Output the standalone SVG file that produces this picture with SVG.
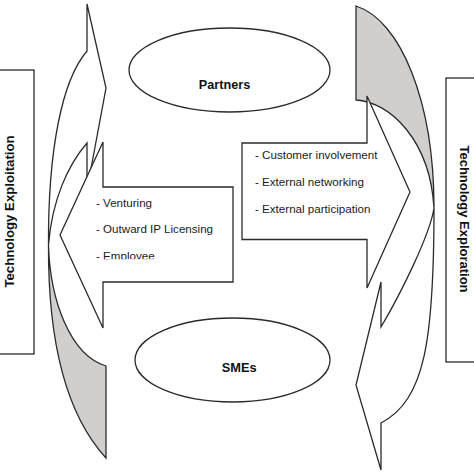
<svg xmlns="http://www.w3.org/2000/svg" width="474" height="474" viewBox="0 0 474 474">
<defs>
<style>
.ln{fill:#fff;stroke:#2b2b2b;stroke-width:1.3;stroke-linejoin:miter}
.sh{fill:#d0cfcd;stroke:#2b2b2b;stroke-width:1.3}
.lbl{font-family:"Liberation Sans",Arial,sans-serif;font-size:11.6px;fill:#1a1a1a}
.bold{font-family:"Liberation Sans",Arial,sans-serif;font-weight:bold;fill:#111}
</style>
<clipPath id="clipL"><rect x="60" y="187" width="173" height="72.3"/></clipPath>
</defs>
<rect width="474" height="474" fill="#fff"/>

<g id="connectors">
  <g id="curved-left">
    <path class="sh" d="M48.5,245 C48,330 62,410 106,458 L106,366 C70,355 50,300 48.5,245 Z"/>
    <path class="ln" d="M87,4 L106,88 L87,190 L87,143 C68,165 52,200 48.5,245 C48,150 62,80 87,51 Z"/>
  </g>
  <g id="curved-right">
    <path class="sh" d="M356,6 C400,20 434,100 434,208 C430,140 390,102 356,100 Z"/>
    <path class="ln" d="M381,470 L356,385 L381,282 L381,327 C400,295 430,235 434,208 C434,340 425,400 381,423 Z"/>
  </g>
</g>

<g id="node-exploitation">
  <rect class="ln" x="-2" y="70" width="36" height="284"/>
  <text class="bold" font-size="13.2" text-anchor="middle" transform="translate(13.5,211.5) rotate(-90)">Technology Exploitation</text>
</g>

<g id="node-exploration">
  <rect class="ln" x="446" y="78" width="32" height="284"/>
  <text class="bold" font-size="13" text-anchor="middle" transform="translate(460,219) rotate(90)">Technology Exploration</text>
</g>

<g id="node-partners">
  <ellipse class="ln" cx="229.5" cy="70" rx="100.5" ry="42"/>
  <text class="bold" font-size="12.7" x="224.5" y="89" text-anchor="middle">Partners</text>
</g>

<g id="node-smes">
  <ellipse class="ln" cx="232.5" cy="360" rx="97.5" ry="42"/>
  <text class="bold" font-size="12.8" x="239.2" y="372.3" text-anchor="middle">SMEs</text>
</g>

<g id="node-exploitation-arrow">
  <path class="ln" d="M233,187 L103,187 L103,142 L60,235 L103,328 L103,282 L233,282 Z"/>
  <g clip-path="url(#clipL)">
    <text class="lbl" x="96" y="206.7">- Venturing</text>
    <text class="lbl" x="96" y="233.3">- Outward IP Licensing</text>
    <text class="lbl" x="96" y="260">- Employee</text>
  </g>
</g>

<g id="node-exploration-arrow">
  <path class="ln" d="M242,143 L367,143 L367,96 L410,192 L367,288 L367,239.5 L242,239.5 Z"/>
  <text class="lbl" x="255" y="159">- Customer involvement</text>
  <text class="lbl" x="255" y="186">- External networking</text>
  <text class="lbl" x="255" y="213">- External participation</text>
</g>
</svg>
